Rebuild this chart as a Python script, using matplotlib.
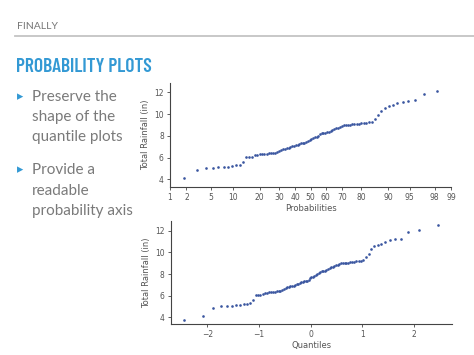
import numpy as np
import matplotlib
matplotlib.use("Agg")
import matplotlib.pyplot as plt
from statistics import NormalDist

# sorted annual rainfall (in)
rainfall = [3.78, 4.12, 4.83, 5.03, 5.08, 5.10, 5.12, 5.15, 5.20, 5.28,
            5.35, 5.60, 6.05, 6.07, 6.08, 6.20, 6.28, 6.30, 6.33, 6.35,
            6.37, 6.38, 6.40, 6.42, 6.45, 6.50, 6.60, 6.72, 6.78, 6.82,
            6.87, 6.90, 6.95, 7.02, 7.08, 7.12, 7.18, 7.25, 7.30, 7.33,
            7.36, 7.40, 7.50, 7.60, 7.70, 7.78, 7.85, 7.92, 8.00, 8.15,
            8.22, 8.26, 8.30, 8.33, 8.38, 8.45, 8.55, 8.62, 8.68, 8.72,
            8.80, 8.88, 8.95, 9.00, 9.02, 9.03, 9.05, 9.07, 9.10, 9.12,
            9.15, 9.18, 9.22, 9.25, 9.27, 9.55, 9.90, 10.28, 10.58, 10.70,
            10.82, 11.00, 11.15, 11.22, 11.25, 11.87, 12.07, 12.50]
prob_ticks = [1, 2, 5, 10, 20, 30, 40, 50, 60, 70, 80, 90, 95, 98, 99]
quant_ticks = [-2, -1, 0, 1, 2]
y_ticks = [4, 6, 8, 10, 12]

bullets = [["Preserve the", "shape of the", "quantile plots"],
           ["Provide a", "readable", "probability axis"]]

nd = NormalDist()
n = len(rainfall)
# Blom plotting positions
pp = [(i - 0.375) / (n + 0.25) for i in range(1, n + 1)]
zq = [nd.inv_cdf(p) for p in pp]

blue = "#3399d4"
gray_txt = "#7a7a7a"
dot_col = "#3a56a0"

fig = plt.figure(figsize=(4.74, 3.55), dpi=100)

# slide header
fig.text(17 / 474, 1 - 29 / 355, "FINALLY", fontsize=7.5, color="#777777",
         family="Lato", ha="left", va="baseline")
fig.add_artist(plt.Line2D([15 / 474, 1], [1 - 36 / 355] * 2, color="#c4c4c4", lw=1.3))
fig.text(16.5 / 474, 1 - 72.5 / 355, "PROBABILITY PLOTS", fontsize=14.1, color=blue,
         family=["Barlow Condensed", "DejaVu Sans"], weight="semibold",
         ha="left", va="baseline")

base = [101, 174.3]
for k, lines in enumerate(bullets):
    fig.text(17 / 474, 1 - (base[k] - 1) / 355, "\u25B8", fontsize=9, color=blue,
             family="DejaVu Sans", ha="left", va="baseline")
    for j, line in enumerate(lines):
        fig.text(32 / 474, 1 - (base[k] + 20.2 * j) / 355, line, fontsize=11,
                 color=gray_txt, family="Lato", weight="normal",
                 ha="left", va="baseline")


def style(ax):
    for s in ["top", "right"]:
        ax.spines[s].set_visible(False)
    for s in ["left", "bottom"]:
        ax.spines[s].set_color("#444444")
        ax.spines[s].set_linewidth(0.8)
    ax.tick_params(labelsize=5.5, length=2.5, width=0.6, colors="#444444",
                   labelcolor="#555555", pad=2)
    ax.set_yticks(y_ticks)
    ax.set_ylabel("Total Rainfall (in)", fontsize=6, color="#555555", labelpad=3)


# top: probability axis
ax1 = fig.add_axes([170 / 474, 1 - 187 / 355, 281 / 474, 104 / 355])
ax1.plot(zq, rainfall, "o", ms=1.9, color=dot_col, mec="none")
ax1.set_xlim(nd.inv_cdf(0.01), nd.inv_cdf(0.99))
ax1.set_ylim(3.3, 12.85)
ax1.set_xticks([nd.inv_cdf(p / 100) for p in prob_ticks])
ax1.set_xticklabels([str(p) for p in prob_ticks])
ax1.set_xlabel("Probabilities", fontsize=6, color="#555555", labelpad=1)
style(ax1)

# bottom: normal quantiles
ax2 = fig.add_axes([171 / 474, 1 - 324 / 355, 281 / 474, 103 / 355])
ax2.plot(zq, rainfall, "o", ms=1.9, color=dot_col, mec="none")
ax2.set_xlim(-2.7, 2.73)
ax2.set_ylim(3.4, 12.9)
ax2.set_xticks(quant_ticks)
ax2.set_xticklabels(["\u22122", "\u22121", "0", "1", "2"])
ax2.set_xlabel("Quantiles", fontsize=6, color="#555555", labelpad=1)
style(ax2)

fig.savefig("out.png", dpi=100)
